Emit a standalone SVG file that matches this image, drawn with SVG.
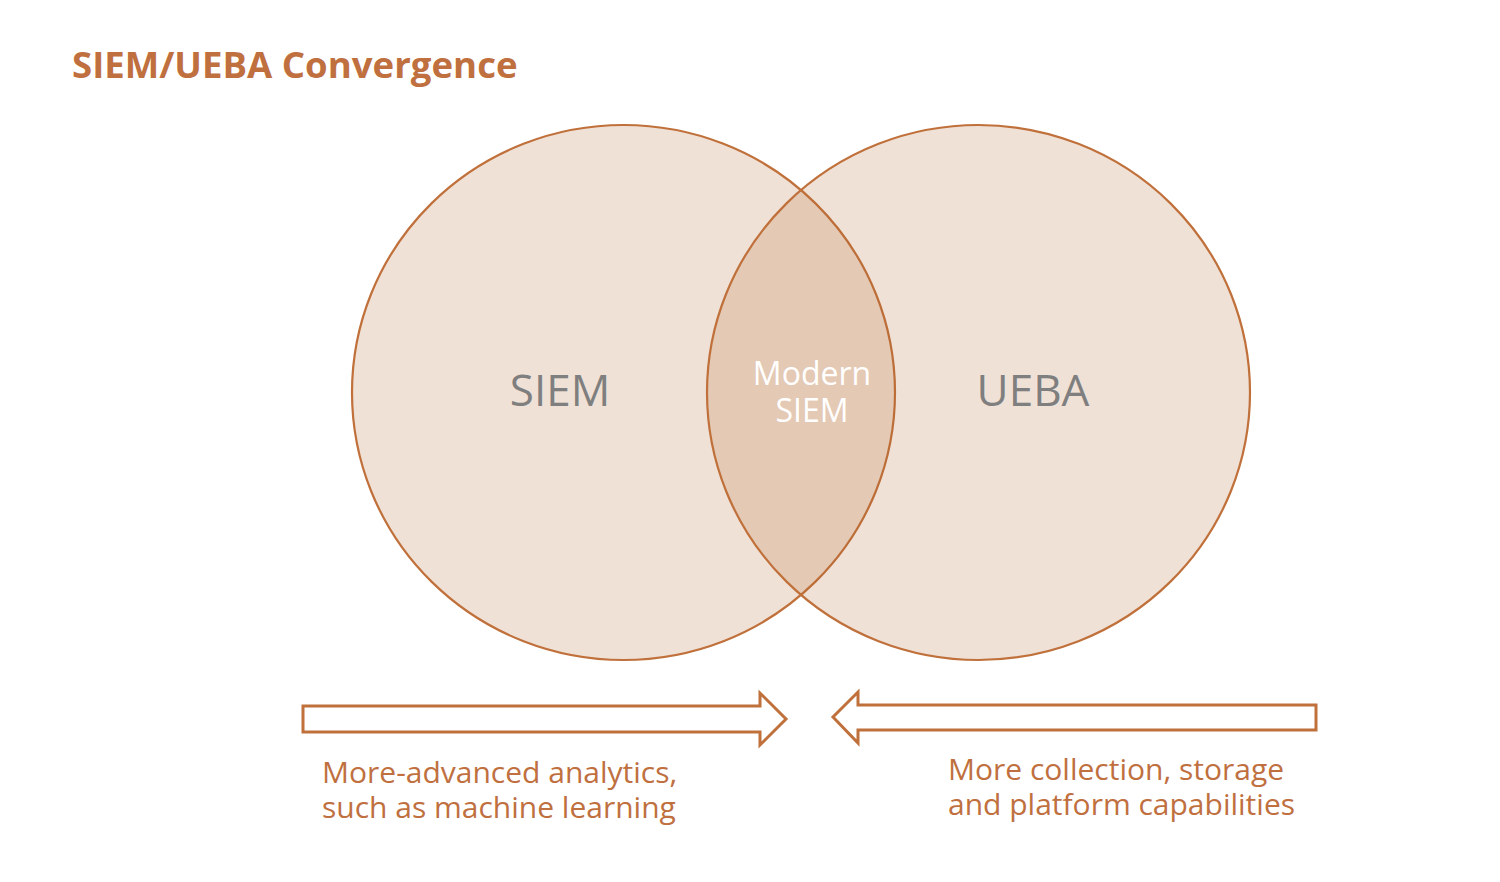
<svg xmlns="http://www.w3.org/2000/svg" width="1500" height="882" viewBox="0 0 1500 882">
<style>
text{font-family:"Open Sans","Liberation Sans",sans-serif;}
.title{font-size:36.6px;font-weight:bold;fill:#C0703F;}
.circ{fill:#B46932;fill-opacity:0.2;stroke:#C0703A;stroke-width:2.2;}
.big{font-size:44px;fill:#7F7F7F;text-anchor:middle;}
.mid{font-size:32px;fill:#FFFFFF;text-anchor:middle;}
.cap{font-size:30px;fill:#C0703F;}
.arrow{fill:#FFFFFF;stroke:#C0703A;stroke-width:3;stroke-linejoin:miter;}
</style>
<rect width="1500" height="882" fill="#FFFFFF"/>
<text class="title" x="72" y="78">SIEM/UEBA Convergence</text>
<g id="siem">
<ellipse class="circ" cx="623.5" cy="392.5" rx="271.5" ry="267.5"/>
</g>
<g id="ueba">
<ellipse class="circ" cx="978.5" cy="392.5" rx="271.5" ry="267.5"/>
</g>
<text class="big" x="560" y="406">SIEM</text>
<text class="big" x="1033" y="406">UEBA</text>
<g id="modern-siem">
<text class="mid" x="812" y="385"><tspan x="812" y="385">Modern</tspan><tspan x="812" y="422">SIEM</tspan></text>
</g>
<g id="connectors">
<polygon class="arrow" points="303,706 760,706 760,693 786,719 760,745 760,732 303,732"/>
<polygon class="arrow" points="1316,705 858,705 858,692 833,717 858,743 858,730 1316,730"/>
</g>
<text class="cap"><tspan x="322" y="783">More-advanced analytics,</tspan><tspan x="322" y="818">such as machine learning</tspan></text>
<text class="cap"><tspan x="948" y="780">More collection, storage</tspan><tspan x="948" y="815">and platform capabilities</tspan></text>
</svg>
